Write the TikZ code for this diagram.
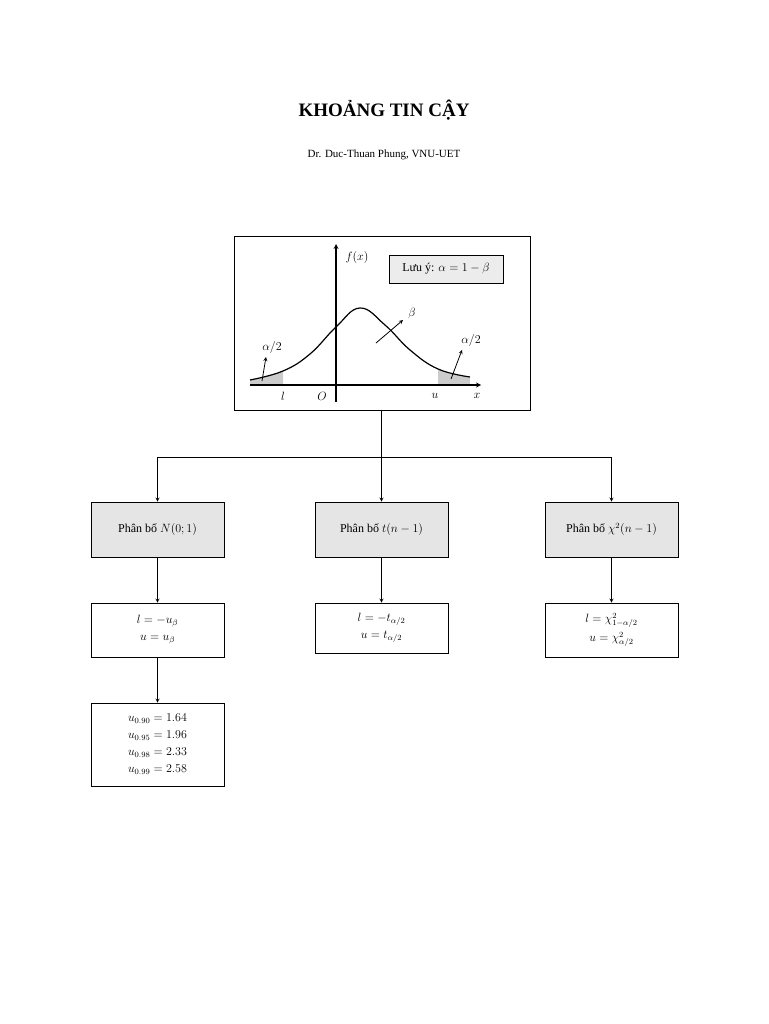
\documentclass[tikz,border=0pt]{standalone}
\usepackage{fontspec}
\setmainfont{Liberation Serif}
\begin{document}
\begin{tikzpicture}[x=1pt,y=-1pt,font=\fontsize{12}{15}\selectfont,
  box/.style={draw,thick,minimum width=133pt,align=center,font=\fontsize{12}{17}\selectfont},
  graybox/.style={box,fill=gray!20,minimum height=55pt},
  arr/.style={->,>=stealth,thick}]
\useasboundingbox (0,0) rectangle (768,1024);
\def\curve{plot[smooth,tension=0.7] coordinates {(250,380)(283,371)(310,354)(336,327)(360,308)(385,325)(410,350)(438,369)(470,377)}}
\node (title) at (384,110) {\fontsize{19}{22}\selectfont\bfseries KHOẢNG TIN CẬY};
\node (sub) at (384,155) {\fontsize{11}{13}\selectfont Dr. Duc-Thuan Phung, VNU-UET};
\node[draw,thick,minimum width=296pt,minimum height=174pt,anchor=north west] (top) at (234,236) {};
\begin{scope}
\clip (250,300) rectangle (283,385.5) (438,300) rectangle (470,385.5);
\fill[gray!40] \curve -- (470,385) -- (250,385) -- cycle;
\end{scope}
\draw[very thick] \curve;
\coordinate (xa0) at (250,385); \coordinate (xa1) at (481,385);
\coordinate (ya0) at (336,402); \coordinate (ya1) at (336,244);
\draw[arr,very thick] (xa0) -- (xa1);
\draw[arr,very thick] (ya0) -- (ya1);
\node (fx) at (357,257) {$f(x)$};
\node[draw,fill=gray!15,minimum width=114pt,minimum height=28pt] (note) at (446,269) {Lưu ý: $\alpha=1-\beta$};
\node (l) at (283,396) {$l$};
\node (O) at (322,396) {$O$};
\node (u) at (435,396) {$u$};
\node (x) at (477,396) {$x$};
\node (al) at (272,347) {$\alpha/2$};
\node (b) at (412,313) {$\beta$};
\node (ar) at (471,340) {$\alpha/2$};
\coordinate (a1) at (262,381); \coordinate (a2) at (266,357);
\coordinate (b1) at (376,343); \coordinate (b2) at (403,320);
\coordinate (c1) at (451,379); \coordinate (c2) at (462,350);
\draw[arr] (a1) -- (a2); \draw[arr] (b1) -- (b2); \draw[arr] (c1) -- (c2);
\node[graybox] (n1) at (157.5,529.5) {Phân bố $N(0;1)$};
\node[graybox] (n2) at (381.5,529.5) {Phân bố $t(n-1)$};
\node[graybox] (n3) at (611.5,529.5) {Phân bố $\chi^2(n-1)$};
\node[box,minimum height=54pt] (m1) at (157.5,630) {$l=-u_\beta$\\$u=u_\beta$};
\node[box,minimum height=50pt] (m2) at (381.5,628) {$l=-t_{\alpha/2}$\\$u=t_{\alpha/2}$};
\node[box,minimum height=54pt] (m3) at (611.5,630) {$l=\chi^2_{1-\alpha/2}$\\[2pt]$u=\chi^2_{\alpha/2}$};
\node[box,minimum height=83pt] (b1n) at (157.5,744.5) {$u_{0.90}=1.64$\\$u_{0.95}=1.96$\\$u_{0.98}=2.33$\\$u_{0.99}=2.58$};
\coordinate (j) at (381.5,457);
\draw[thick] (top.south -| j) -- (j);
\draw[arr] (j) -- (n2.north);
\draw[arr] (j) -| (n1.north);
\draw[arr] (j) -| (n3.north);
\draw[arr] (n1) -- (m1); \draw[arr] (n2) -- (m2); \draw[arr] (n3) -- (m3);
\draw[arr] (m1) -- (b1n);
\end{tikzpicture}
\end{document}
